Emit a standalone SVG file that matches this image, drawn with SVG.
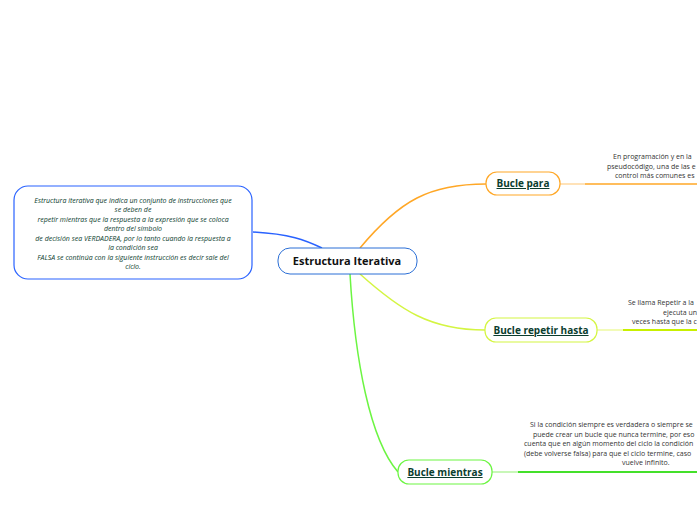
<svg xmlns="http://www.w3.org/2000/svg" width="697" height="520" viewBox="0 0 697 520">
<style>
.t{font-family:"Open Sans","Noto Sans",sans-serif}
.lbl{font-size:10px;font-weight:bold;fill:#0b3d2e;text-decoration:underline;text-anchor:middle}
.d{font-size:7px;fill:#333}
.l{font-size:7px;fill:#0b3d2e;font-style:italic;text-anchor:middle}
.c{fill:none;stroke-width:1.5}
</style>
<rect width="697" height="520" fill="#fff"/>
<g id="connectors">
<path class="c" d="M253,232 C290,234 305,240 322,248" stroke="#2962ff"/>
<path class="c" d="M360,248 C400,200 430,184 486,184" stroke="#ffa726"/>
<path class="c" d="M360,274 C400,310 430,330 485,330" stroke="#d4f542"/>
<path class="c" d="M350,274 C355,360 370,440 398,472" stroke="#6cf542"/>
<path d="M560,184 H585" stroke="#ffd9a0" stroke-width="1.5"/>
<path d="M585,184 H697" stroke="#ffa726" stroke-width="1.5"/>
<path d="M597,330 H623" stroke="#eefaa0" stroke-width="1.5"/>
<path d="M623,330 H697" stroke="#c8f000" stroke-width="2"/>
<path d="M492,472 H518" stroke="#b6f5a0" stroke-width="1.5"/>
<path d="M518,472 H697" stroke="#44e02a" stroke-width="2"/>
</g>
<g id="central" class="t">
<rect x="278" y="248" width="139" height="26" rx="12" fill="#fff" stroke="#2b6fd6" stroke-width="1"/>
<text x="347" y="265" font-size="11" font-weight="bold" fill="#111" text-anchor="middle">Estructura Iterativa</text>
</g>
<g id="left" class="t">
<rect x="14" y="186" width="238" height="93" rx="14" fill="#fff" stroke="#2962ff" stroke-width="1.2"/>
<text class="l" x="133" y="203">Estructura iterativa que indica un conjunto de instrucciones que</text>
<text class="l" x="133" y="212">se deben de</text>
<text class="l" x="133" y="222">repetir mientras que la respuesta a la expresión que se coloca</text>
<text class="l" x="133" y="231">dentro del símbolo</text>
<text class="l" x="133" y="241">de decisión sea VERDADERA, por lo tanto cuando la respuesta a</text>
<text class="l" x="133" y="250">la condición sea</text>
<text class="l" x="133" y="260">FALSA se continúa con la siguiente instrucción es decir sale del</text>
<text class="l" x="133" y="269">ciclo.</text>
</g>
<g id="para" class="t">
<rect x="486" y="172" width="74" height="23" rx="11" fill="#fff" stroke="#ffa726" stroke-width="1.2"/>
<text class="lbl" x="523" y="187">Bucle para</text>
<text class="d" x="613" y="159">En programación y en la</text>
<text class="d" x="607" y="169">pseudocódigo, una de las e</text>
<text class="d" x="615" y="178">control más comunes es</text>
</g>
<g id="repetir" class="t">
<rect x="485" y="318" width="112" height="24" rx="11" fill="#fff" stroke="#d4f542" stroke-width="1.2"/>
<text class="lbl" x="541" y="334">Bucle repetir hasta</text>
<text class="d" x="628" y="305">Se llama Repetir a la</text>
<text class="d" x="663" y="315">ejecuta un</text>
<text class="d" x="632" y="324">veces hasta que la c</text>
</g>
<g id="mientras" class="t">
<rect x="398" y="460" width="94" height="24" rx="11" fill="#fff" stroke="#6cf542" stroke-width="1.2"/>
<text class="lbl" x="445" y="476">Bucle mientras</text>
<text class="d" x="530" y="427">Si la condición siempre es verdadera o siempre se</text>
<text class="d" x="533" y="437">puede crear un bucle que nunca termine, por eso</text>
<text class="d" x="524" y="446">cuenta que en algún momento del ciclo la condición</text>
<text class="d" x="524" y="456">(debe volverse falsa) para que el ciclo termine, caso</text>
<text class="d" x="622" y="465">vuelve infinito.</text>
</g>
</svg>
